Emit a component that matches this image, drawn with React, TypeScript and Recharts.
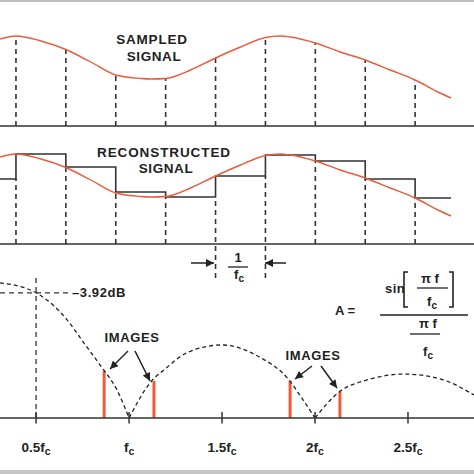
import { ComposedChart, Line, XAxis, YAxis, ReferenceLine } from "recharts";

const FONT = "'Liberation Sans', Arial, sans-serif";
const ORANGE = "#eb5a3c";
const BAR = "#f25a36";
const INK = "#333";

// time panels: x in sample periods (sample k sits at t = k)
const T_DOMAIN = [-0.32, 9.18];
const SIGNAL_T = [-0.32, 0, 0.5, 1, 1.5, 2, 2.5, 2.7, 3, 3.5, 4, 4.5, 5, 5.3, 5.5, 6, 6.5, 7, 7.5, 8, 8.5, 8.72];
const SIGNAL_V = [8.7, 9.0, 8.5, 7.65, 6.4, 5.1, 4.75, 4.7, 4.75, 5.6, 6.8, 7.9, 8.85, 9.0, 8.9, 8.3, 7.4, 6.6, 5.6, 4.6, 3.3, 2.8];
const SAMPLE_T = [0, 1, 2, 3, 4, 5, 6, 7, 8];
const SAMPLE_V = [9.0, 7.65, 5.1, 4.75, 6.8, 8.85, 8.3, 6.6, 4.6];
// zero-order hold output (first value is the hold left over from the previous sample)
const HOLD_T = [-0.32, 0, 1, 2, 3, 4, 5, 6, 7, 8, 8.72];
const HOLD_V = [6.5, 9.0, 7.7, 5.2, 4.7, 6.8, 8.9, 8.3, 6.5, 4.6, 4.6];
const PERIOD_MARKS = [4, 5];

// spectrum panel: x in multiples of fc, y = relative amplitude
const F_DOMAIN = [0.306, 2.855];
const LOBE1_F = [0.306, 0.5, 0.667, 0.753, 0.844, 0.935, 1.0];
const LOBE1_A = [0.689, 0.638, 0.5, 0.388, 0.27, 0.143, 0];
const LOBE2_F = [1.0, 1.113, 1.2, 1.31, 1.5, 1.7, 1.86, 1.93, 2.0];
const LOBE2_A = [0, 0.179, 0.255, 0.332, 0.372, 0.311, 0.194, 0.1, 0];
const LOBE3_F = [2.0, 2.13, 2.28, 2.48, 2.69, 2.855];
const LOBE3_A = [0, 0.133, 0.194, 0.224, 0.194, 0.117];
const IMAGE_F = [0.866, 1.134, 1.866, 2.134];
const IMAGE_A = [0.24, 0.189, 0.189, 0.133];
const FREQ_TICKS = [0.5, 1, 1.5, 2, 2.5];
const TICK_LABELS = ["0.5f", "f", "1.5f", "2f", "2.5f"];
const HALF_FC_GAIN = 0.638;

const zip = (xs: number[], ys: number[], kx: string, ky: string) =>
  xs.map((x, i) => ({ [kx]: x, [ky]: ys[i] }));

const signal = zip(SIGNAL_T, SIGNAL_V, "t", "v");
const hold = zip(HOLD_T, HOLD_V, "t", "v");
const lobes = [
  zip(LOBE1_F, LOBE1_A, "f", "a"),
  zip(LOBE2_F, LOBE2_A, "f", "a"),
  zip(LOBE3_F, LOBE3_A, "f", "a"),
];

const M = { top: 0, right: 0, bottom: 0, left: 0 };
const axisLine = { stroke: INK, strokeWidth: 1.5 };

const FreqTick = (props: any) => {
  const { x, y, payload } = props;
  const i = FREQ_TICKS.indexOf(payload.value);
  return (
    <text x={x} y={y + 26} textAnchor="middle" fontFamily={FONT} fontWeight="bold" fontSize={13.5} fill="#222">
      {TICK_LABELS[i]}
      <tspan fontSize={10.5} dy={3}>c</tspan>
    </text>
  );
};

function TopPanel() {
  return (
    <ComposedChart width={474} height={128} margin={M} style={{ position: "absolute", top: 0, left: 0 }}>
      <XAxis dataKey="t" type="number" domain={T_DOMAIN} height={2} tick={false} tickLine={false} axisLine={axisLine} />
      <YAxis hide type="number" domain={[0, 12.6]} />
      {SAMPLE_T.map((t, i) => (
        <ReferenceLine key={t} segment={[{ x: t, y: 0 }, { x: t, y: SAMPLE_V[i] }]} stroke={INK} strokeWidth={1.6} strokeDasharray="5 4" />
      ))}
      <Line data={signal} dataKey="v" type="monotone" stroke={ORANGE} strokeWidth={1.4} dot={false} activeDot={false} isAnimationActive={false} />
    </ComposedChart>
  );
}

function MiddlePanel() {
  return (
    <ComposedChart width={474} height={162} margin={M} style={{ position: "absolute", top: 118, left: 0 }}>
      <XAxis dataKey="t" type="number" domain={T_DOMAIN} height={36} tick={false} tickLine={false} axisLine={axisLine} />
      <YAxis hide type="number" domain={[0, 12.6]} />
      {SAMPLE_T.map((t) => {
        const i = HOLD_T.indexOf(t);
        const top = Math.min(HOLD_V[i - 1], HOLD_V[i]);
        const bottom = PERIOD_MARKS.includes(t) ? -3.4 : 0;
        return (
          <ReferenceLine key={t} ifOverflow="visible" segment={[{ x: t, y: bottom }, { x: t, y: top }]} stroke={INK} strokeWidth={1.6} strokeDasharray="5 4" />
        );
      })}
      <Line data={hold} dataKey="v" type="stepAfter" stroke={INK} strokeWidth={1.6} dot={false} activeDot={false} isAnimationActive={false} />
      <Line data={signal} dataKey="v" type="monotone" stroke={ORANGE} strokeWidth={1.4} dot={false} activeDot={false} isAnimationActive={false} />
    </ComposedChart>
  );
}

function SpectrumPanel() {
  return (
    <ComposedChart width={474} height={213} margin={M} style={{ position: "absolute", top: 261, left: 0 }}>
      <XAxis dataKey="f" type="number" domain={F_DOMAIN} ticks={FREQ_TICKS} height={56} tickLine={false} axisLine={axisLine} tick={<FreqTick />} interval={0} />
      <YAxis hide type="number" domain={[0, 0.8]} />
      <ReferenceLine segment={[{ x: 0.5, y: 0 }, { x: 0.5, y: 0.714 }]} stroke={INK} strokeWidth={1.3} strokeDasharray="5 4" />
      <ReferenceLine segment={[{ x: F_DOMAIN[0], y: HALF_FC_GAIN }, { x: 0.672, y: HALF_FC_GAIN }]} stroke={INK} strokeWidth={1.3} strokeDasharray="5 4" />
      {FREQ_TICKS.map((f) => (
        <ReferenceLine key={f} ifOverflow="visible" segment={[{ x: f, y: -0.028 }, { x: f, y: 0.031 }]} stroke={INK} strokeWidth={1.5} />
      ))}
      {IMAGE_F.map((f, i) => (
        <ReferenceLine key={f} segment={[{ x: f, y: 0 }, { x: f, y: IMAGE_A[i] }]} stroke={BAR} strokeWidth={3} />
      ))}
      {lobes.map((d, i) => (
        <Line key={i} data={d} dataKey="a" type="monotone" stroke="#222" strokeWidth={1.3} strokeDasharray="4 3" dot={false} activeDot={false} isAnimationActive={false} />
      ))}
    </ComposedChart>
  );
}

function Annotations() {
  const t = { fontFamily: FONT, fontWeight: "bold" as const, fill: "#222" };
  return (
    <svg width={474} height={474} style={{ position: "absolute", top: 0, left: 0, pointerEvents: "none" }}>
      <defs>
        <marker id="ah" viewBox="0 0 10 10" refX="10" refY="5" markerWidth="9" markerHeight="8" markerUnits="userSpaceOnUse" orient="auto">
          <path d="M0,0 L10,5 L0,10 z" fill="#222" />
        </marker>
      </defs>
      <text {...t} x={152} y={44} fontSize={13.5} letterSpacing={0.8} textAnchor="middle">SAMPLED</text>
      <text {...t} x={154} y={61} fontSize={13.5} letterSpacing={0.6} textAnchor="middle">SIGNAL</text>
      <text {...t} x={164} y={157} fontSize={13.5} letterSpacing={0.9} textAnchor="middle">RECONSTRUCTED</text>
      <text {...t} x={166} y={173} fontSize={13.5} letterSpacing={0.6} textAnchor="middle">SIGNAL</text>

      {/* 1/fc period marker */}
      <line x1={191} y1={263} x2={214} y2={263} stroke="#222" strokeWidth={1.5} markerEnd="url(#ah)" />
      <line x1={286} y1={263} x2={265} y2={263} stroke="#222" strokeWidth={1.5} markerEnd="url(#ah)" />
      <text {...t} x={238} y={262} fontSize={13} textAnchor="middle">1</text>
      <line x1={228} y1={267} x2={248} y2={267} stroke="#222" strokeWidth={1.3} />
      <text {...t} x={239} y={279} fontSize={13} textAnchor="middle">f<tspan fontSize={10} dy={3}>c</tspan></text>

      <text {...t} x={72} y={297} fontSize={13} letterSpacing={0.6}>–3.92dB</text>

      <text {...t} x={132} y={342} fontSize={13} letterSpacing={0.6} textAnchor="middle">IMAGES</text>
      <line x1={128} y1={351} x2={110} y2={369} stroke="#222" strokeWidth={1.5} markerEnd="url(#ah)" />
      <line x1={135} y1={351} x2={150} y2={381} stroke="#222" strokeWidth={1.5} markerEnd="url(#ah)" />
      <text {...t} x={313} y={360} fontSize={13} letterSpacing={0.6} textAnchor="middle">IMAGES</text>
      <line x1={312} y1={366} x2={295} y2={379} stroke="#222" strokeWidth={1.5} markerEnd="url(#ah)" />
      <line x1={321} y1={366} x2={337} y2={388} stroke="#222" strokeWidth={1.5} markerEnd="url(#ah)" />

      {/* A = sin[pi f / fc] / (pi f / fc) */}
      <text {...t} x={335} y={315} fontSize={13}>A =</text>
      <text {...t} x={385} y={293} fontSize={13} letterSpacing={0.5}>sin</text>
      <path d="M408,272 L404,272 L404,307 L408,307" fill="none" stroke="#222" strokeWidth={1.6} />
      <path d="M449,272 L453,272 L453,307 L449,307" fill="none" stroke="#222" strokeWidth={1.6} />
      <text {...t} x={430} y={283} fontSize={13} textAnchor="middle">π f</text>
      <line x1={417} y1={288} x2={448} y2={288} stroke="#222" strokeWidth={1.3} />
      <text {...t} x={432} y={306} fontSize={13} textAnchor="middle">f<tspan fontSize={10} dy={3}>c</tspan></text>
      <line x1={380} y1={315} x2={468} y2={315} stroke="#222" strokeWidth={1.6} />
      <text {...t} x={428} y={328} fontSize={13} textAnchor="middle">π f</text>
      <line x1={410} y1={334} x2={440} y2={334} stroke="#222" strokeWidth={1.3} />
      <text {...t} x={428} y={356} fontSize={13} textAnchor="middle">f<tspan fontSize={10} dy={3}>c</tspan></text>
    </svg>
  );
}

export default function App() {
  return (
    <div style={{ position: "absolute", top: 0, left: 0, width: 474, height: 474, background: "#fff", overflow: "hidden" }}>
      <div style={{ position: "absolute", top: 0, left: 0, width: 474, height: 2, background: "#bdbdbd" }} />
      <TopPanel />
      <MiddlePanel />
      <SpectrumPanel />
      <Annotations />
      <div style={{ position: "absolute", top: 470, left: 0, width: 474, height: 4, background: "#c6c6c6" }} />
    </div>
  );
}
